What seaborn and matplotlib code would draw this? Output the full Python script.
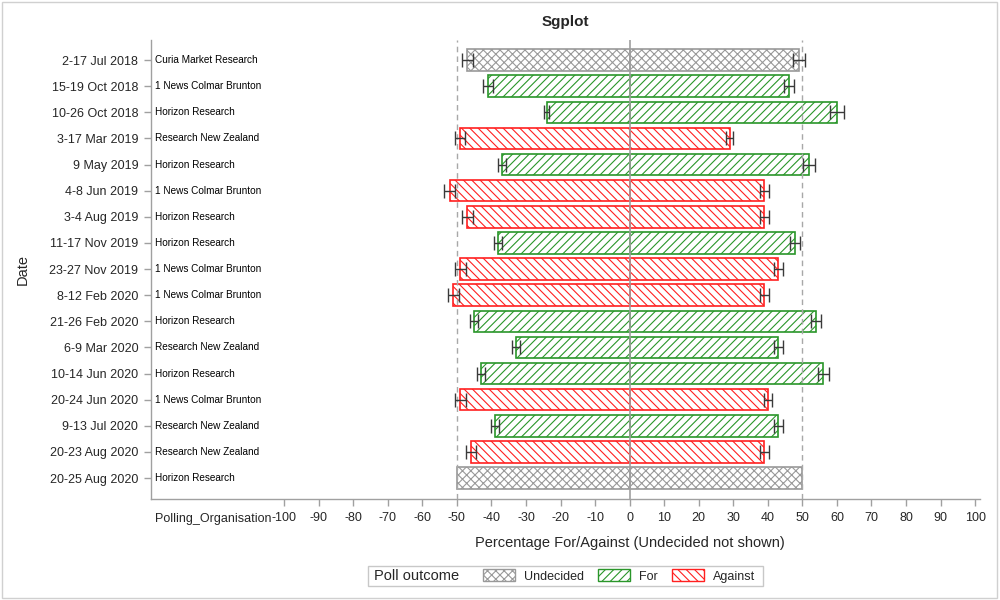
import numpy as np
import pandas as pd
import matplotlib
matplotlib.use("Agg")
import matplotlib.pyplot as plt
from matplotlib.patches import Patch, Rectangle
import seaborn as sns

# poll data
dates = ["2-17 Jul 2018", "15-19 Oct 2018", "10-26 Oct 2018", "3-17 Mar 2019",
         "9 May 2019", "4-8 Jun 2019", "3-4 Aug 2019", "11-17 Nov 2019",
         "23-27 Nov 2019", "8-12 Feb 2020", "21-26 Feb 2020", "6-9 Mar 2020",
         "10-14 Jun 2020", "20-24 Jun 2020", "9-13 Jul 2020", "20-23 Aug 2020",
         "20-25 Aug 2020"]
orgs = ["Curia Market Research", "1 News Colmar Brunton", "Horizon Research",
        "Research New Zealand", "Horizon Research", "1 News Colmar Brunton",
        "Horizon Research", "Horizon Research", "1 News Colmar Brunton",
        "1 News Colmar Brunton", "Horizon Research", "Research New Zealand",
        "Horizon Research", "1 News Colmar Brunton", "Research New Zealand",
        "Research New Zealand", "Horizon Research"]
for_pct = [49, 46, 60, 29, 52, 39, 39, 48, 43, 39, 54, 43, 56, 40, 43, 39, 50]
against_pct = [47, 41, 24, 49, 37, 52, 47, 38, 49, 51, 45, 33, 43, 49, 39, 46, 50]
for_err = [1.7, 1.45, 2.0, 1.0, 1.7, 1.35, 1.35, 1.45, 1.35, 1.35, 1.4, 1.35,
           1.6, 1.25, 1.35, 1.35, np.nan]
against_err = [1.6, 1.45, 0.7, 1.45, 1.2, 1.6, 1.6, 1.15, 1.55, 1.65, 1.05, 1.15,
               1.1, 1.6, 1.2, 1.45, np.nan]
outcome = ["Undecided", "For", "For", "Against", "For", "Against", "Against", "For",
           "Against", "Against", "For", "For", "For", "Against", "For", "Against",
           "Undecided"]

outcomes = ["Undecided", "For", "Against"]
colors = {"Undecided": "#999999", "For": "#2a962a", "Against": "#ff2020"}
hatches = {"Undecided": "xxxx", "For": "////", "Against": "\\\\\\\\"}

df = pd.DataFrame({"date": dates, "org": orgs, "for_pct": for_pct,
                   "against_neg": [-a for a in against_pct], "outcome": outcome})

sns.set_style("white")
plt.rcParams["font.family"] = ["Liberation Sans", "DejaVu Sans"]
plt.rcParams["hatch.linewidth"] = 0.8

fig = plt.figure(figsize=(10, 6), dpi=100)
ax = fig.add_axes([0.1507, 0.1683, 0.98 - 0.1507, 0.9333 - 0.1683])

for oc in outcomes:
    sub = df[df["outcome"] == oc]
    n0 = len(ax.patches)
    sns.barplot(data=sub, x="for_pct", y="date", order=dates, orient="h",
                width=0.82, errorbar=None, color=colors[oc], ax=ax)
    sns.barplot(data=sub, x="against_neg", y="date", order=dates, orient="h",
                width=0.82, errorbar=None, color=colors[oc], ax=ax)
    for p in ax.patches[n0:]:
        p.set_facecolor("none")
        p.set_edgecolor(colors[oc])
        p.set_hatch(hatches[oc])
        p.set_linewidth(1.2)

# error bars at both ends of each bar
ypos = np.arange(len(dates))
fe = np.array(for_err)
ae = np.array(against_err)
ok = ~np.isnan(fe)
ax.errorbar(np.array(for_pct)[ok], ypos[ok], xerr=fe[ok], fmt="none",
            ecolor="#3a3a3a", elinewidth=1, capsize=5, capthick=1, zorder=5)
ax.errorbar(-np.array(against_pct)[ok], ypos[ok], xerr=ae[ok], fmt="none",
            ecolor="#3a3a3a", elinewidth=1, capsize=5, capthick=1, zorder=5)

# reference lines
ax.axvline(0, color="#a0a0a0", lw=1.2, zorder=4)
for xv in (-50, 50):
    ax.axvline(xv, color="#a8a8a8", lw=1, ls=(0, (4, 3)), zorder=4)

# organisation labels inside the plot
for i, org in enumerate(orgs):
    ax.text(-137.3, i, org, fontsize=7.2, va="center", ha="left", color="black")

ax.set_xlim(-138.6, 101.4)
ax.set_ylim(16.80, -0.766)
ax.set_xticks(range(-100, 101, 10))
ax.set_xticklabels([str(v) for v in range(-100, 101, 10)], fontsize=9)
ax.set_yticks(ypos)
ax.set_yticklabels(dates, fontsize=9)
ax.tick_params(axis="both", direction="out", length=5, width=1, color="#a0a0a0",
               left=True, bottom=True)
ax.tick_params(axis="y", pad=4)
ax.tick_params(axis="x", pad=4)
for s in ["top", "right"]:
    ax.spines[s].set_visible(False)
for s in ["left", "bottom"]:
    ax.spines[s].set_color("#a0a0a0")
    ax.spines[s].set_linewidth(1)

ax.set_ylabel("Date", fontsize=10.5, labelpad=14)
ax.set_xlabel("")
fig.text(0.6295, 1 - 543 / 600, "Percentage For/Against (Undecided not shown)",
         fontsize=10.5, ha="center", va="center")
ax.text(-137.3, -0.03, "Polling_Organisation", transform=ax.get_xaxis_transform(),
        fontsize=9, ha="left", va="top")
ax.set_title("Sgplot", fontsize=11, fontweight="bold", pad=10)

# legend with inline title
fig.patches.append(Rectangle((368 / 1000, 1 - 586 / 600), 395 / 1000, 20 / 600,
                             transform=fig.transFigure, fill=False,
                             edgecolor="#c8c8c8", lw=1))
fig.text(374 / 1000, 1 - 576 / 600, "Poll outcome", fontsize=10.5, va="center")
handles = [Patch(facecolor="none", edgecolor=colors[o], hatch=hatches[o], lw=1)
           for o in outcomes]
fig.legend(handles, outcomes, loc="center left", ncol=3, frameon=False,
           bbox_to_anchor=(472 / 1000, 1 - 576 / 600), fontsize=9,
           handlelength=2.56, handleheight=1.1, handletextpad=0.72,
           columnspacing=1.1, borderpad=0.4)

# figure border
fig.patches.append(Rectangle((2 / 1000, 2 / 600), 995 / 1000, 596 / 600,
                             transform=fig.transFigure, fill=False,
                             edgecolor="#d0d0d0", lw=1))

fig.savefig("out.png", dpi=100)
